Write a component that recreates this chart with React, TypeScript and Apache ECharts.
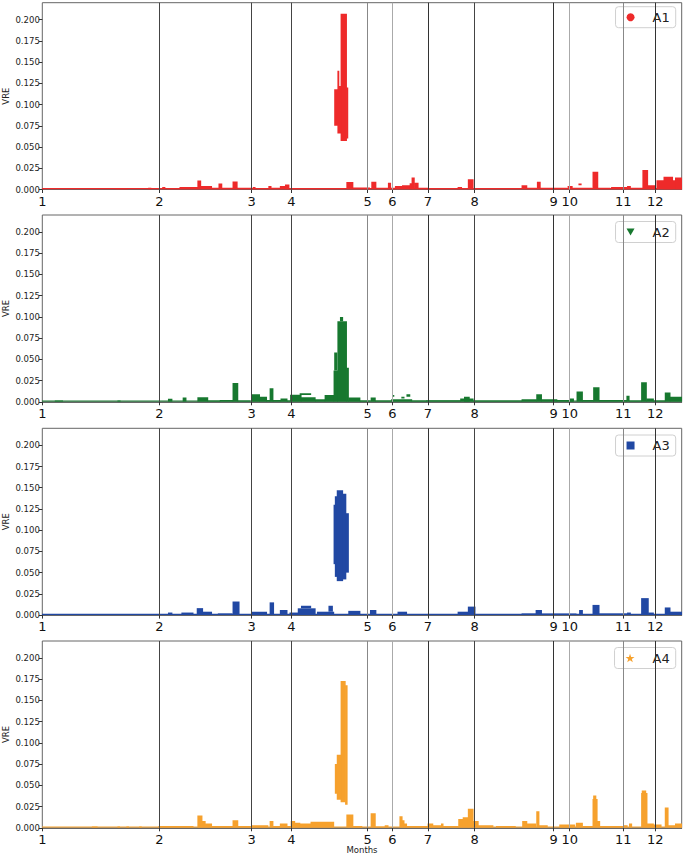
import React, { useEffect, useRef } from "react";
import * as echarts from "echarts";

// x axis: position within the record (0..1000), month starts at irregular positions
const monthLabels = ["1", "2", "3", "4", "5", "6", "7", "8", "9", "10", "11", "12"];
const monthPos = [0, 183, 327.5, 389.4, 508.9, 547.4, 603.2, 676.3, 799.8, 824.8, 908.7, 958.7];
const monthLineColors = ["#444", "#444", "#444", "#444", "#888", "#aaa", "#333", "#444", "#333", "#aaa", "#888", "#333"];
const yTicks = [0, 0.025, 0.05, 0.075, 0.1, 0.125, 0.15, 0.175, 0.2];

// ground-attached segments: [xStart, xEnd, VRE]
const a1Base = [
  [0, 1000, 0.0006], [115, 133, 0.0012], [166, 170, 0.002], [188, 192, 0.003], [195, 215, 0.0015],
  [215, 243, 0.003], [243, 248, 0.0105], [248, 265, 0.004], [265, 276, 0.002], [276, 281, 0.007],
  [281, 298, 0.002], [298, 305, 0.0094], [305, 330, 0.002], [330, 333, 0.003], [333, 354, 0.0015],
  [354, 358, 0.004], [358, 372, 0.002], [372, 385, 0.004], [380, 386, 0.006], [386, 473, 0.001],
  [476, 486, 0.0088], [486, 512, 0.0025], [515, 522, 0.009], [522, 541, 0.002], [541, 545, 0.008],
  [545, 552, 0.002], [552, 563, 0.004], [563, 575, 0.005], [575, 580, 0.0075], [578, 582, 0.014],
  [582, 588, 0.008], [588, 603, 0.002], [603, 650, 0.0012], [650, 656, 0.003], [656, 665, 0.0015],
  [666, 674, 0.012], [674, 748, 0.0015], [750, 758, 0.005], [758, 773, 0.002], [774, 779, 0.009],
  [779, 820, 0.002], [822, 829, 0.004], [829, 860, 0.002], [861, 869, 0.021], [869, 888, 0.002],
  [890, 915, 0.003], [915, 920, 0.004], [920, 939, 0.002], [939, 947, 0.023], [947, 959, 0.005],
  [961, 1000, 0.011], [972, 986, 0.015], [990, 1000, 0.014],
];
// floating clusters: [xStart, xEnd, low, high]
const a1Cluster = [
  [467, 476, 0.057, 0.207], [476, 478, 0.06, 0.12], [457, 462, 0.075, 0.118],
  [462, 467, 0.066, 0.122], [462, 464, 0.122, 0.14], [839, 843, 0.005, 0.007],
];

const a2Base = [
  [0, 1000, 0.0006], [20, 32, 0.0012], [118, 122, 0.0012], [197, 203, 0.0035], [220, 225, 0.005],
  [243, 259, 0.0055], [259, 278, 0.0015], [278, 298, 0.002], [298, 306, 0.022], [306, 325, 0.0012],
  [328, 340, 0.009], [340, 351, 0.006], [351, 356, 0.002], [356, 361, 0.016], [361, 373, 0.002],
  [373, 383, 0.004], [383, 388, 0.001], [388, 405, 0.0083], [405, 427, 0.0055], [427, 442, 0.003],
  [442, 456, 0.008], [456, 462, 0.037], [462, 476, 0.095], [476, 479, 0.04], [479, 497, 0.005],
  [497, 513, 0.0012], [514, 521, 0.005], [521, 546, 0.0012], [546, 578, 0.003], [578, 601, 0.001],
  [601, 654, 0.0018], [654, 674, 0.004], [660, 668, 0.006], [674, 750, 0.0008], [750, 773, 0.003],
  [773, 781, 0.009], [781, 805, 0.003], [805, 830, 0.002], [825, 831, 0.004], [836, 845, 0.012],
  [845, 862, 0.002], [862, 871, 0.017], [871, 914, 0.002], [914, 918, 0.007], [918, 937, 0.001],
  [937, 945, 0.023], [945, 956, 0.004], [956, 974, 0.001], [974, 982, 0.011], [982, 1000, 0.006],
];
const a2Cluster = [
  [457, 461, 0.037, 0.058], [466, 470, 0.095, 0.1], [548, 550, 0.006, 0.008],
  [562, 566, 0.004, 0.006], [570, 575, 0.006, 0.009], [403, 420, 0.008, 0.01],
];

const a3Base = [
  [0, 1000, 0.0015], [197, 203, 0.003], [218, 236, 0.003], [242, 251, 0.0082], [251, 265, 0.004],
  [275, 297, 0.002], [298, 308, 0.016], [328, 351, 0.004], [356, 362, 0.015], [372, 383, 0.006],
  [387, 400, 0.003], [400, 427, 0.008], [430, 456, 0.004], [479, 497, 0.005], [513, 522, 0.006],
  [556, 570, 0.004], [650, 666, 0.004], [666, 677, 0.01], [750, 772, 0.002], [772, 781, 0.006],
  [781, 835, 0.002], [840, 845, 0.006], [861, 871, 0.012], [871, 915, 0.002], [915, 920, 0.003],
  [937, 948, 0.02], [948, 956, 0.003], [974, 982, 0.009], [982, 1000, 0.004],
];
const a3Cluster = [
  [405, 420, 0.008, 0.011], [448, 454, 0.004, 0.011], [456, 458, 0.06, 0.13], [458, 461, 0.045, 0.14],
  [461, 470, 0.04, 0.147], [470, 475, 0.042, 0.143], [475, 479, 0.05, 0.12],
];

const a4Base = [
  [0, 1000, 0.0006], [78, 86, 0.001], [118, 121, 0.001], [132, 135, 0.001], [152, 155, 0.001],
  [182, 236, 0.002], [243, 250, 0.0145], [250, 255, 0.008], [255, 265, 0.005], [265, 298, 0.002],
  [298, 306, 0.009], [306, 328, 0.002], [328, 353, 0.003], [356, 361, 0.008], [361, 372, 0.002],
  [372, 383, 0.005], [383, 389, 0.002], [389, 395, 0.008], [395, 403, 0.006], [403, 420, 0.005],
  [420, 456, 0.007], [476, 486, 0.0157], [486, 500, 0.002], [514, 521, 0.017], [521, 536, 0.001],
  [536, 541, 0.003], [559, 563, 0.0137], [563, 566, 0.009], [566, 570, 0.005], [570, 603, 0.002],
  [603, 611, 0.005], [611, 625, 0.003], [624, 627, 0.005], [627, 651, 0.002], [651, 658, 0.0105],
  [658, 666, 0.0125], [666, 674, 0.0223], [674, 682, 0.008], [682, 705, 0.003], [710, 740, 0.002],
  [751, 758, 0.008], [758, 772, 0.005], [773, 777, 0.0196], [777, 790, 0.003], [809, 833, 0.004],
  [835, 845, 0.006], [845, 861, 0.002], [861, 868, 0.034], [868, 872, 0.008], [872, 910, 0.002],
  [910, 915, 0.003], [918, 922, 0.005], [937, 946, 0.041], [946, 956, 0.005], [956, 968, 0.004],
  [974, 979, 0.024], [979, 990, 0.003], [990, 1000, 0.005],
];
const a4Cluster = [
  [467, 474, 0.03, 0.173], [474, 477, 0.027, 0.168], [458, 461, 0.04, 0.075],
  [461, 467, 0.033, 0.086], [862, 866, 0.034, 0.038], [938, 944, 0.041, 0.044],
];

const seriesNames = ["A1", "A2", "A3", "A4"];
const seriesColors = ["#ee2a2a", "#17782f", "#2148a3", "#f6a12d"];
const seriesIcons = [
  "circle",
  "path://M0,0L10,0L5,9Z",
  "rect",
  "path://M5,0L6.2,3.6L10,3.6L7,5.9L8.1,9.5L5,7.3L1.9,9.5L3,5.9L0,3.6L3.8,3.6Z",
];
const baseSets = [a1Base, a2Base, a3Base, a4Base];
const clusterSets = [a1Cluster, a2Cluster, a3Cluster, a4Cluster];

const gridTops = [2.7, 215, 428.3, 641];
const gridHeight = 186.8;
const legendTops = [6.7, 221.5, 435, 647.5];

export default function App() {
  const ref = useRef<HTMLDivElement>(null);
  useEffect(() => {
    if (!ref.current) return;
    const chart = echarts.init(ref.current, null, { renderer: "svg" });
    const font = "DejaVu Sans";
    const grids = gridTops.map((t) => ({
      left: 42.3, right: 3.3, top: t, height: gridHeight,
      containLabel: false, outerBoundsMode: "none",
      show: true, borderColor: "#666", borderWidth: 1, backgroundColor: "transparent",
    }));
    const xAxes = gridTops.map((_, i) => ({
      type: "value", gridIndex: i, min: 0, max: 1000,
      splitLine: { show: false },
      axisLine: { show: true, lineStyle: { color: "#666", width: 1 } },
      axisTick: { show: true, length: 3.5, lineStyle: { color: "#333" }, customValues: monthPos },
      axisLabel: {
        customValues: monthPos, margin: 5, fontSize: 13, color: "#111", fontFamily: font,
        formatter: (v: number) => {
          const k = monthPos.findIndex((p) => Math.abs(p - v) < 0.01);
          return k >= 0 ? monthLabels[k] : "";
        },
      },
      name: i === 3 ? "Months" : "",
      nameLocation: "middle", nameGap: 18, nameMoveOverlap: false,
      nameTextStyle: { fontSize: 8.5, color: "#222", fontFamily: font },
    }));
    const yAxes = gridTops.map((_, i) => ({
      type: "value", gridIndex: i, min: 0, max: 0.22,
      splitLine: { show: false },
      axisLine: { show: false },
      axisTick: { show: true, length: 3.5, lineStyle: { color: "#333" }, customValues: yTicks },
      axisLabel: {
        customValues: yTicks, margin: 2.5, fontSize: 8.5, color: "#222", fontFamily: font,
        formatter: (v: number) => v.toFixed(3),
      },
      name: "VRE", nameLocation: "middle", nameGap: 32, nameRotate: 90, nameMoveOverlap: false,
      nameTextStyle: { fontSize: 8.5, color: "#222", fontFamily: font },
    }));
    const series = seriesNames.map((name, i) => {
      const color = seriesColors[i];
      const data = [
        ...baseSets[i].map((s) => [s[0], s[1], 0, s[2]]),
        ...clusterSets[i].map((s) => [s[0], s[1], s[2], s[3]]),
      ];
      return {
        type: "custom", name, xAxisIndex: i, yAxisIndex: i, clip: true,
        itemStyle: { color },
        encode: { x: [0, 1], y: [2, 3] },
        data,
        renderItem: (params: any, api: any) => {
          const a = api.coord([api.value(0), api.value(3)]);
          const b = api.coord([api.value(1), api.value(2)]);
          const w = Math.max(b[0] - a[0], 1) + 0.6;
          const h = Math.max(b[1] - a[1], 1.4);
          return {
            type: "rect",
            shape: { x: a[0] - 0.3, y: b[1] - h, width: w, height: h },
            style: { fill: color, stroke: null },
          };
        },
        markLine: {
          silent: true, symbol: ["none", "none"], label: { show: false },
          emphasis: { disabled: true },
          data: monthPos.slice(1).map((v, k) => ({
            xAxis: v,
            lineStyle: { color: monthLineColors[k + 1], width: 1, type: "solid" },
          })),
        },
      };
    });
    const legends = seriesNames.map((name, i) => ({
      right: 9.3, top: legendTops[i], orient: "horizontal",
      selectedMode: false,
      data: [{ name, icon: seriesIcons[i], itemStyle: { color: seriesColors[i] } }],
      itemWidth: i === 3 ? 9 : 8, itemHeight: i === 3 ? 9 : 8,
      padding: [4, 6, 4, 11],
      borderColor: "#d0d0d0", borderWidth: 1, borderRadius: 3,
      backgroundColor: "rgba(255,255,255,0.85)",
      textStyle: { fontSize: 13, color: "#222", fontFamily: font, padding: [0, 0, 0, 13], lineHeight: 13 },
    }));
    chart.setOption({
      animation: false,
      textStyle: { fontFamily: font },
      grid: grids,
      xAxis: xAxes,
      yAxis: yAxes,
      legend: legends,
      series,
    });
    return () => chart.dispose();
  }, []);
  return (
    <div
      ref={ref}
      style={{ position: "fixed", left: 0, top: 0, width: 685, height: 857, background: "#fff" }}
    />
  );
}
